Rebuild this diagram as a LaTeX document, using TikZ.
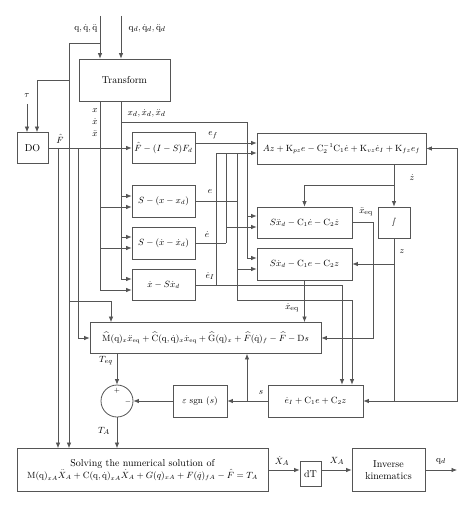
\documentclass[tikz,border=0pt]{standalone}
\usepackage{amsmath}
\usetikzlibrary{arrows.meta,calc}
\definecolor{lc}{RGB}{85,85,85}
\begin{document}
\begin{tikzpicture}[x=1pt,y=-1pt,
  wire/.style={draw=lc,line width=0.7pt},
  arr/.style={wire,-{Latex[length=5.5pt,width=4.5pt]}},
  blk/.style={draw=lc,line width=0.8pt,inner sep=0pt,font=\fontsize{9}{11}\selectfont,text=black},
  big/.style={font=\fontsize{10}{12}\selectfont},
  lbl/.style={font=\fontsize{9.5}{11}\selectfont,inner sep=0.5pt,text=black}]
\fill[white] (0,0) rectangle (474,508);
\useasboundingbox (0,0) rectangle (474,508);
% blocks
\node[blk,big,minimum width=91pt,minimum height=42pt] (tr) at (124.5,80) {Transform};
\node[blk,big,minimum width=31pt,minimum height=31pt] (do) at (32.5,148) {DO};
\node[blk,minimum width=63pt,minimum height=31pt] (fh) at (163.5,148) {$\hat{F}-(I-S)F_d$};
\node[blk,minimum width=63pt,minimum height=32pt] (s1) at (163.5,201) {$S-(x-x_d)$};
\node[blk,minimum width=63pt,minimum height=32pt] (s2) at (163.5,243) {$S-(\dot{x}-\dot{x}_d)$};
\node[blk,minimum width=63pt,minimum height=31pt] (s3) at (163.5,285) {$\dot{x}-S\dot{x}_d$};
\node[blk,minimum width=169pt,minimum height=31pt] (az) at (341.5,148.5) {$Az+\mathrm{K}_{pz}e-\mathrm{C}_2^{-1}\mathrm{C}_1\dot{e}+\mathrm{K}_{vz}\dot{e}_I+\mathrm{K}_{fz}e_f$};
\node[blk,minimum width=95pt,minimum height=31pt] (b1) at (304.5,222.5) {$S\ddot{x}_d-\mathrm{C}_1\dot{e}-\mathrm{C}_2\dot{z}$};
\node[blk,minimum width=32pt,minimum height=31pt] (in) at (394,222.5) {$\smallint$};
\node[blk,minimum width=95pt,minimum height=32pt] (b2) at (304.5,264) {$S\dot{x}_d-\mathrm{C}_1e-\mathrm{C}_2z$};
\node[blk,minimum width=231pt,minimum height=31pt] (mb) at (205.5,338) {$\widehat{\mathrm{M}}(\mathrm{q})_x\ddot{x}_{\mathrm{eq}}+\widehat{\mathrm{C}}(\mathrm{q},\dot{\mathrm{q}})_x\dot{x}_{\mathrm{eq}}+\widehat{\mathrm{G}}(\mathrm{q})_x+\widehat{F}(\dot{\mathrm{q}})_f-\widehat{F}-\mathrm{D}s$};
\node[draw=lc,line width=0.8pt,circle,minimum size=32pt,inner sep=0pt] (sm) at (117,401) {};
\node[blk,minimum width=54pt,minimum height=32pt] (eps) at (200,401) {$\varepsilon\ \mathrm{sgn}\ (s)$};
\node[blk,minimum width=95pt,minimum height=32pt] (be) at (315.5,401) {$\dot{e}_I+\mathrm{C}_1e+\mathrm{C}_2z$};
\node[blk,minimum width=251pt,minimum height=43pt,align=center] (sol) at (142.5,470) {{\fontsize{10}{12}\selectfont Solving the numerical solution of}\\[1pt]$\mathrm{M(q)}_{xA}\ddot{X}_A+\mathrm{C(q,\dot{q})}_{xA}\dot{X}_A+G(q)_{xA}+F(\dot{q})_{fA}-\hat{F}=T_A$};
\node[blk,big,minimum width=21pt,minimum height=25pt] (dt) at (310.5,474) {dT};
\node[blk,big,minimum width=73pt,minimum height=43pt,align=center] (ik) at (388.5,470) {Inverse\\kinematics};
% helper coordinates
\coordinate (X58) at (58,0);  \coordinate (X69) at (69,0);  \coordinate (X78) at (78,0);
\coordinate (X100) at (100,0); \coordinate (X111) at (111,0); \coordinate (X121) at (121,0);
\coordinate (X216) at (216,0); \coordinate (X226) at (226,0); \coordinate (X237) at (237,0);
\coordinate (X247) at (247,0); \coordinate (Xs) at (247,0); \coordinate (X342) at (342,0);
\coordinate (X352) at (352,0); \coordinate (X373) at (373,0); \coordinate (X394) at (394,0);
\coordinate (X457) at (457,0);
\coordinate (qin) at (100,16); \coordinate (qdin) at (121,16);
\coordinate (tau) at (27,104);
\coordinate (qdout) at (457,470);
\coordinate (s1u) at ([yshift=5pt]s1.west);  \coordinate (s1d) at ([yshift=-6pt]s1.west);
\coordinate (s2u) at ([yshift=6pt]s2.west);  \coordinate (s2d) at ([yshift=-5pt]s2.west);
\coordinate (s3u) at ([yshift=6pt]s3.west);  \coordinate (s3d) at ([yshift=-5pt]s3.west);
\coordinate (b1u) at ([yshift=6.5pt]b1.west); \coordinate (b1d) at ([yshift=-4.5pt]b1.west);
\coordinate (b2u) at ([yshift=6pt]b2.west);  \coordinate (b2d) at ([yshift=-5pt]b2.west);
\coordinate (azu) at ([yshift=5.5pt]az.west); \coordinate (azd) at ([yshift=-4.5pt]az.west);
\coordinate (qbr) at (100,43); \coordinate (qdo) at (69,80); \coordinate (qm) at (69,301);
\coordinate (xdbr) at (121,122); \coordinate (e300) at (237,300); \coordinate (zbr) at (394,185);
% inputs
\draw[arr] (qin) -- (qin |- tr.north);
\draw[arr] (qdin) -- (qdin |- tr.north);
\draw[arr] (qbr) -| (X69 |- sol.north);
\draw[arr] (qdo) -| ([xshift=4.5pt]do.north);
\draw[arr] (tau) -- (tau |- do.north);
% F hat
\draw[arr] (do.east) -- (fh.west);
\draw[arr] (X58 |- do.east) -- (X58 |- sol.north);
\draw[arr] (X78 |- do.east) |- (mb.west);
\draw[arr] (qm) -| (X111 |- mb.north);
% x bus
\draw[wire] (tr.south -| X100) -- (X100 |- s3d);
\draw[arr] (X100 |- s1d) -- (s1d);
\draw[arr] (X100 |- s2d) -- (s2d);
\draw[arr] (X100 |- s3d) -- (s3d);
% xd bus
\draw[wire] (tr.south -| X121) -- (X121 |- s3u);
\draw[arr] (X121 |- s1u) -- (s1u);
\draw[arr] (X121 |- s2u) -- (s2u);
\draw[arr] (X121 |- s3u) -- (s3u);
\draw[wire] (xdbr) -| (X247 |- b2u);
\draw[arr] (X247 |- b1u) -- (b1u);
\draw[arr] (X247 |- b2u) -- (b2u);
% errors
\draw[arr] (fh.east |- azu) -- (azu);
\draw[arr] (X216 |- s3.east) -- (X216 |- azd) -- (azd);
\draw[wire] (X226 |- azd) -- (X226 |- s2.east);
\draw[wire] (s1.east) -- (X237 |- s1.east);
\draw[wire] (s2.east) -- (X226 |- s2.east);
\draw[arr] (X237 |- azd) -- (e300) -| (X352 |- be.north);
\draw[arr] (s3.east) -| (X342 |- be.north);
\draw[arr] (X226 |- b1d) -- (b1d);
\draw[arr] (X237 |- b2d) -- (b2d);
% z dot and z
\draw[arr] (az.south -| in.north) -- (in.north);
\draw[arr] (zbr) -| (b1.north);
\draw[wire] (in.south) -- (in.south |- be.east);
\draw[arr] (X394 |- b2.east) -- (b2.east);
\draw[arr] (X394 |- be.east) -- (be.east);
\draw[arr] (X394 |- be.east) -| (X457 |- az.east) -- (az.east);
% eq signals
\draw[arr] (b1.east) -| (X373 |- mb.east) -- (mb.east);
\draw[arr] (b2.south) -- (b2.south |- mb.north);
% control
\draw[arr] (mb.south -| sm.north) -- (sm.north);
\draw[arr] (eps.west) -- (sm.east);
\draw[arr] (be.west) -- (eps.east);
\draw[arr] (Xs |- be.west) -- (Xs |- mb.south);
\draw[arr] (sm.south) -- (sm.south |- sol.north);
\draw[arr] (sol.east) -- (sol.east -| dt.west);
\draw[arr] (dt.east |- ik.west) -- (ik.west);
\draw[arr] (ik.east) -- (qdout);
% labels
\node[lbl,anchor=east] at (98,28) {$\mathrm{q},\dot{\mathrm{q}},\ddot{\mathrm{q}}$};
\node[lbl,anchor=west] at (128,28) {$\mathrm{q}_d,\dot{\mathrm{q}}_d,\ddot{\mathrm{q}}_d$};
\node[lbl] at (27,96) {$\tau$};
\node[lbl] at (60,139) {$\hat{F}$};
\node[lbl,align=center,anchor=north] at (95,108) {$x$\\[1pt]$\dot{x}$\\[1pt]$\ddot{x}$};
\node[lbl,anchor=west] at (127,113) {$x_d,\dot{x}_d,\ddot{x}_d$};
\node[lbl] at (213,135) {$e_f$};
\node[lbl] at (210,192) {$e$};
\node[lbl] at (207,234) {$\dot{e}$};
\node[lbl] at (210,276) {$\dot{e}_I$};
\node[lbl] at (412,177) {$\dot{z}$};
\node[lbl] at (366,212) {$\ddot{x}_{\mathrm{eq}}$};
\node[lbl] at (402,252) {$z$};
\node[lbl] at (292,308) {$\dot{x}_{\mathrm{eq}}$};
\node[lbl] at (106,361) {$T_{eq}$};
\node[lbl] at (261,393) {$s$};
\node[lbl] at (104,431) {$T_A$};
\node[lbl] at (282,461) {$\dot{X}_A$};
\node[lbl] at (337,461) {$X_A$};
\node[lbl] at (441,461) {$\mathrm{q}_d$};
\node[lbl,font=\fontsize{7}{8}\selectfont] at (117,391) {$+$};
\node[lbl,font=\fontsize{7}{8}\selectfont] at (128,402) {$-$};
\end{tikzpicture}
\end{document}
